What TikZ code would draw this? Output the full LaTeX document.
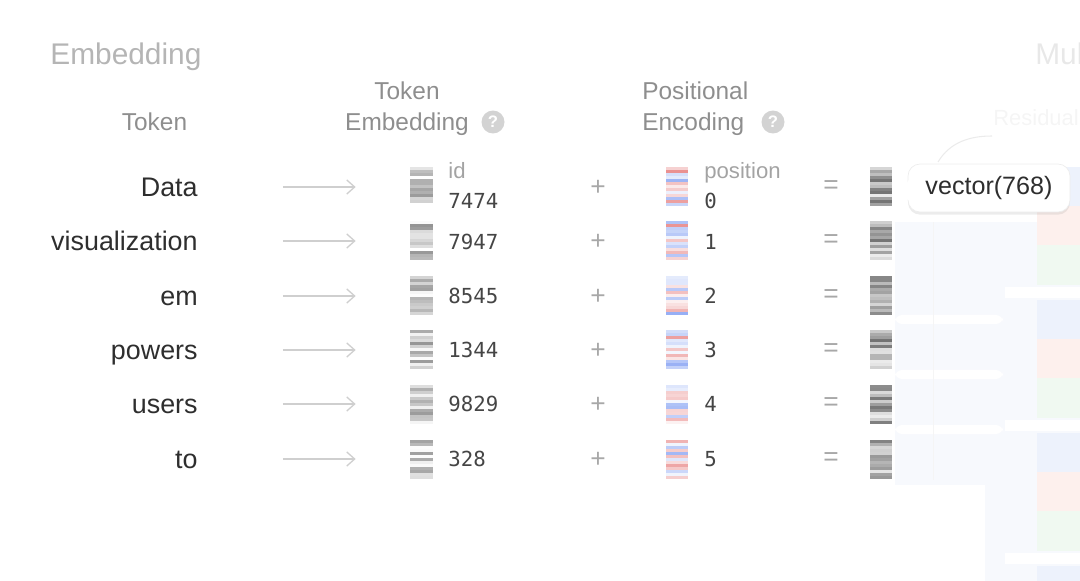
\documentclass[tikz,border=0pt]{standalone}
\usepackage{fontspec}
\setmainfont{Liberation Sans}
\setmonofont{DejaVu Sans Mono}
\usepackage{tikz}
\usetikzlibrary{arrows.meta}
\usetikzlibrary{shadows}

\definecolor{titlegray}{HTML}{B5B5B5}
\definecolor{headgray}{HTML}{8E8E8E}
\definecolor{labelgray}{HTML}{A3A3A3}
\definecolor{worddark}{HTML}{2E2E2E}
\definecolor{numdark}{HTML}{454545}
\definecolor{arrowgray}{HTML}{CFCFCF}
\definecolor{opgray}{HTML}{A8A8A8}
\definecolor{helpgray}{HTML}{D3D3D3}
\definecolor{posred}{HTML}{E06060}
\definecolor{posblue}{HTML}{6A8DF0}
\definecolor{panelblue}{HTML}{F7F9FD}
\definecolor{cellred}{HTML}{FDF0ED}
\definecolor{cellgreen}{HTML}{F0F9F1}
\definecolor{cellblue}{HTML}{EDF2FC}

\tikzset{
	tokword/.style={anchor=east, inner sep=0pt, text height=10.7pt, text depth=0pt, text=worddark, font=\fontsize{15.3}{18}\selectfont},
	colhead/.style={anchor=base, inner sep=0pt, text=headgray, font=\fontsize{13.9}{16}\selectfont},
	idnum/.style={anchor=west, inner sep=0pt, text height=8.6pt, text depth=0pt, text=numdark, font=\ttfamily\fontsize{11.8}{14}\selectfont},
	smalllabel/.style={anchor=base west, inner sep=0pt, text=labelgray, font=\fontsize{12.6}{15}\selectfont},
	oper/.style={inner sep=0pt, text=opgray, font=\fontsize{15}{18}\selectfont},
	strip/.style={inner sep=0pt, minimum width=0.46cm, minimum height=0.78cm},
	helpdot/.style={circle, fill=helpgray, inner sep=0pt, minimum size=0.46cm, text=white, font=\bfseries\fontsize{9.5}{10}\selectfont},
	tokarrow/.style={draw=arrowgray, line width=0.75pt, -{Straight Barb[length=4.5pt, width=8pt]}, shorten <=1.7cm, shorten >=1.08cm},
}

\begin{document}
\begin{tikzpicture}[x=0.02cm, y=-0.02cm]
		\useasboundingbox (0,0) rectangle (1080,581);
		% faded next stage on the right:
		\fill[panelblue] (895,222) rectangle (1080,485);
		\fill[panelblue] (985,485) rectangle (1080,581);
		\foreach \g in {0,133,266,399}{
			\fill[cellblue] (1037,167+\g) rectangle (1080,206+\g);
			\fill[cellred] (1037,206+\g) rectangle (1080,245+\g);
			\fill[cellgreen] (1037,245+\g) rectangle (1080,285+\g);
			\fill[white] (1005,287+\g) rectangle (1080,298+\g);
		}
		\foreach \b in {315,370,425}
			\fill[white, rounded corners=4] (895,\b) rectangle (1003,\b+9);
		\draw[black!4, line width=0.4pt] (933,222) -- (933,480);
		\draw[black!8, line width=0.6pt] (938,162) .. controls (950,142) and (970,136) .. (992,136);
		\node[anchor=base west, inner sep=0pt, text=black!9, font=\fontsize{17}{20}\selectfont] (nexttitle) at (1035,65) {Multi-head};
		\node[anchor=base west, inner sep=0pt, text=black!4, font=\fontsize{12.5}{15}\selectfont] (nextsub) at (993,126) {Residual};
		% headers:
		\node[anchor=base west, inner sep=0pt, text=titlegray, font=\fontsize{17}{20}\selectfont] (title) at (50,65) {Embedding};
		\node[colhead] (tokhead) at (154.5,131) {Token};
		\node[colhead] (embhead1) at (407,100) {Token};
		\node[colhead] (embhead2) at (407,131) {Embedding};
		\node[colhead, anchor=base west] (poshead1) at (642,100) {Positional};
		\node[colhead, anchor=base west] (poshead2) at (642,131) {Encoding};
		\node[helpdot] (embhelp) at (493,122) {?};
		\node[helpdot] (poshelp) at (773,122) {?};
		% rows:
		\pgfmathsetseed{4711}
		\foreach \n/\tok/\id/\y/\ny in {1/Data/7474/187/201, 2/visualization/7947/241/241.5, 3/em/8545/296/296, 4/powers/1344/350/350, 5/users/9829/404/404, 6/to/328/459/459}{
			\node[tokword] (tok\n) at (198,\y) {\tok};
			\node[strip] (emb\n) at (421.5,\y) {};
			\node[strip] (pos\n) at (677,\y) {};
			\node[strip] (vec\n) at (881,\y) {};
			\foreach \k in {0,...,12}{
				\pgfmathsetmacro{\ga}{int(random(0,42))}
				\fill[black!\ga] (410,\y-19.5+\k*3) rectangle ++(23,3);
				\pgfmathsetmacro{\gb}{int(random(8,55))}
				\fill[black!\gb] (870,\y-19.5+\k*3) rectangle ++(22,3);
				\pgfmathsetmacro{\pc}{int(random(0,1))}
				\pgfmathsetmacro{\pv}{int(random(8,70))}
				\ifnum\pc=0 \fill[posred!\pv!white] (666,\y-19.5+\k*3) rectangle ++(22,3);
				\else \fill[posblue!\pv!white] (666,\y-19.5+\k*3) rectangle ++(22,3);
				\fi
			}
			\draw[tokarrow] (tok\n.east) -- (emb\n.west);
			\node[idnum] (id\n) at (448,\ny) {\id};
			\node[oper] (plus\n) at (598,\y+1) {+};
			\pgfmathsetmacro{\pn}{int(\n-1)}
			\node[idnum] (posnum\n) at (704,\ny) {\pn};
			\node[oper] (eq\n) at (831,\y) {=};
		}
		\node[smalllabel] (idlabel) at (448,179) {id};
		\node[smalllabel] (poslabel) at (704,179) {position};
		% tooltip:
		\node[draw=black!7, fill=white, rounded corners=0.24cm, minimum width=3.24cm, minimum height=0.96cm, inner sep=0pt, text=worddark, font=\fontsize{14.3}{17}\selectfont, drop shadow={shadow xshift=0pt, shadow yshift=-1.5pt, opacity=0.15}] (tip) at (989,188) {vector(768)};
		\fill[white] (910,178) -- (898,197) -- (912,201) -- cycle;
	\end{tikzpicture}
\end{document}
